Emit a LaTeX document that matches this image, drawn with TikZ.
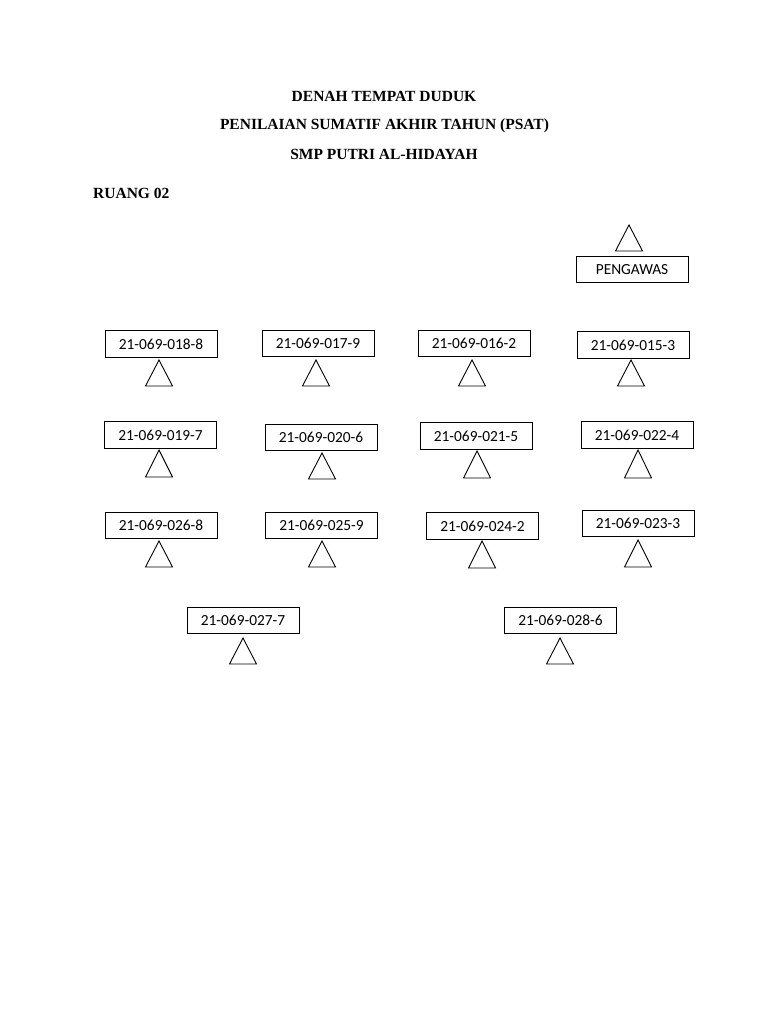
\documentclass[tikz,border=0pt]{standalone}
\usepackage{fontspec}
\setmainfont{Liberation Serif}
\newfontfamily\boxfont{Carlito}
\tikzset{
  seatbox/.style={draw=black, line width=0.9pt, rectangle, inner sep=0pt,
    minimum width=112pt, minimum height=26.5pt, font=\boxfont\fontsize{15.4}{18}\selectfont},
  chair/.style={draw=black, line width=0.9pt, line join=miter},
  titletext/.style={font=\bfseries\fontsize{15.5}{18}\selectfont, inner sep=0pt}
}
\newcommand{\chairtri}[3]{\draw[chair] (#1,#2) -- (#1-13.5,#3) -- (#1+13.5,#3) -- cycle;}
\begin{document}
\begin{tikzpicture}[x=1pt,y=-1pt]
\useasboundingbox (0,0) rectangle (768,1024);
\fill[white] (0,0) rectangle (768,1024);
% titles
\node[titletext] (t1) at (384,96.5) {DENAH TEMPAT DUDUK};
\node[titletext] (t2) at (384.5,125.5) {PENILAIAN SUMATIF AKHIR TAHUN (PSAT)};
\node[titletext] (t3) at (384,154.5) {SMP PUTRI AL-HIDAYAH};
\node[titletext, anchor=west] (ruang) at (93,193) {RUANG 02};
% pengawas
\node[seatbox] (peng) at (632,269.5) {PENGAWAS};
\chairtri{629}{225}{251}
% row 1
\node[seatbox] (s018) at (161,344) {21-069-018-8};
\chairtri{159}{360}{386}
\node[seatbox] (s017) at (318,343.5) {21-069-017-9};
\chairtri{316}{360}{386}
\node[seatbox] (s016) at (474,343.5) {21-069-016-2};
\chairtri{472}{360}{386}
\node[seatbox] (s015) at (633,345) {21-069-015-3};
\chairtri{631}{360}{386}
% row 2
\node[seatbox] (s019) at (160.5,435) {21-069-019-7};
\chairtri{159}{450}{477}
\node[seatbox] (s020) at (321,437.5) {21-069-020-6};
\chairtri{322}{453}{479}
\node[seatbox] (s021) at (476,436) {21-069-021-5};
\chairtri{477}{451}{478}
\node[seatbox] (s022) at (637,435) {21-069-022-4};
\chairtri{638}{450}{478}
% row 3
\node[seatbox] (s026) at (161,525.5) {21-069-026-8};
\chairtri{159}{541}{567}
\node[seatbox] (s025) at (321.5,525.5) {21-069-025-9};
\chairtri{322}{541}{567}
\node[seatbox] (s024) at (482.5,526) {21-069-024-2};
\chairtri{482}{541}{568}
\node[seatbox] (s023) at (638,523.5) {21-069-023-3};
\chairtri{638}{540}{567}
% row 4
\node[seatbox] (s027) at (243,620.5) {21-069-027-7};
\chairtri{243}{638}{664}
\node[seatbox] (s028) at (560.5,620.5) {21-069-028-6};
\chairtri{560}{638}{664}
\end{tikzpicture}
\end{document}
